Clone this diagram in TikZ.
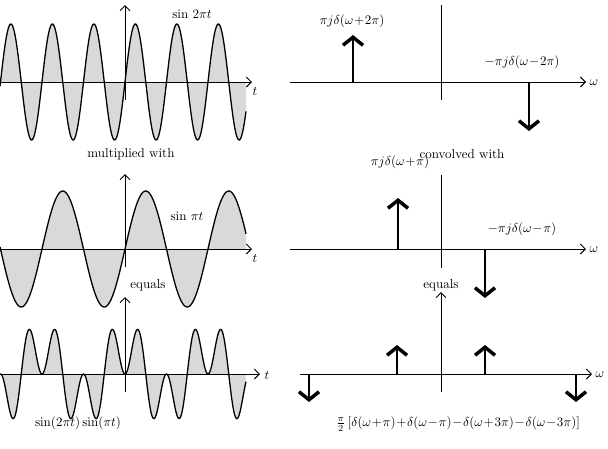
\documentclass[tikz,border=0pt]{standalone}
\usetikzlibrary{arrows.meta}
\begin{document}
\begin{tikzpicture}[x=1pt,y=-1pt,
  ax/.style={line width=1pt,-{Straight Barb[length=5pt,width=10pt]}},
  imp/.style={line width=1.5pt,-{Straight Barb[length=8pt,width=20pt,line width=3.5pt]}},
  lab/.style={scale=1.3,inner sep=0pt}]
\useasboundingbox (0,0) rectangle (608,448);
% left top
\fill[gray!30,domain=0:246,samples=300] (0,82) -- plot (\x,{82-58*sin((\x-125)/41.5*360)}) -- (246,82) -- cycle;
\draw[line width=1.3pt,domain=0:246,samples=300] plot (\x,{82-58*sin((\x-125)/41.5*360)});
\coordinate (a1l) at (0,82); \coordinate (a1r) at (252,82);
\coordinate (v1b) at (125,100); \coordinate (v1t) at (125,5);
\draw[ax] (a1l) -- (a1r); \draw[ax] (v1b) -- (v1t);
\node[lab] (l1) at (192,14) {sin $2\pi t$};
\node[lab] (t1) at (255,91) {$t$};
\node[lab] (mw) at (131,154) {multiplied with};
% left middle
\fill[gray!30,domain=0:246,samples=200] (0,249) -- plot (\x,{249-58*sin((\x-125)/83*360)}) -- (246,249) -- cycle;
\draw[line width=1.3pt,domain=0:246,samples=200] plot (\x,{249-58*sin((\x-125)/83*360)});
\coordinate (a2l) at (0,249); \coordinate (a2r) at (252,249);
\coordinate (v2b) at (125,267); \coordinate (v2t) at (125,174);
\draw[ax] (a2l) -- (a2r); \draw[ax] (v2b) -- (v2t);
\node[lab] (l2) at (187,216) {sin $\pi t$};
\node[lab] (t2) at (255,258) {$t$};
\node[lab] (eq1) at (148,285) {equals};
% left bottom
\fill[gray!30,domain=0:246,samples=400] (0,374) -- plot (\x,{374-58*sin((\x-125)/41.5*360)*sin((\x-125)/41.5*180)}) -- (246,374) -- cycle;
\draw[line width=1.3pt,domain=0:246,samples=400] plot (\x,{374-58*sin((\x-125)/41.5*360)*sin((\x-125)/41.5*180)});
\coordinate (a3l) at (0,374); \coordinate (a3r) at (260,374);
\coordinate (v3b) at (125,392); \coordinate (v3t) at (125,297);
\draw[ax] (a3l) -- (a3r); \draw[ax] (v3b) -- (v3t);
\node[lab] (t3) at (267,375) {$t$};
\node[lab] (l3) at (78,423) {$\sin(2\pi t)\sin(\pi t)$};
% right top
\coordinate (b1l) at (290,82); \coordinate (b1r) at (586,82);
\coordinate (w1b) at (441,100); \coordinate (w1t) at (441,5);
\draw[ax] (b1l) -- (b1r);
\draw[line width=1pt] (w1b) -- (w1t);
\coordinate (p1) at (353,82); \coordinate (p1t) at (353,35);
\coordinate (p2) at (529,82); \coordinate (p2t) at (529,131);
\draw[imp] (p1) -- (p1t); \draw[imp] (p2) -- (p2t);
\node[lab] (o1) at (594,83) {$\omega$};
\node[lab] (d1) at (352,21) {$\pi j\delta(\omega\!+\!2\pi)$};
\node[lab] (d2) at (522,62) {$-\pi j\delta(\omega\!-\!2\pi)$};
\node[lab] (cw) at (462,154) {convolved with};
% right middle
\coordinate (b2l) at (290,249); \coordinate (b2r) at (586,249);
\coordinate (w2b) at (441,268); \coordinate (w2t) at (441,175);
\draw[ax] (b2l) -- (b2r); \draw[line width=1pt] (w2b) -- (w2t);
\coordinate (q1) at (398,249); \coordinate (q1t) at (398,198);
\coordinate (q2) at (485,249); \coordinate (q2t) at (485,298);
\draw[imp] (q1) -- (q1t); \draw[imp] (q2) -- (q2t);
\node[lab] (o2) at (594,250) {$\omega$};
\node[lab] (d3) at (400,162) {$\pi j\delta(\omega\!+\!\pi)$};
\node[lab] (d4) at (522,229) {$-\pi j\delta(\omega\!-\!\pi)$};
\node[lab] (eq2) at (441,285) {equals};
% right bottom
\coordinate (b3l) at (300,374); \coordinate (b3r) at (592,374);
\coordinate (w3b) at (441,392); \coordinate (w3t) at (441,292);
\draw[ax] (b3l) -- (b3r); \draw[ax] (w3b) -- (w3t);
\coordinate (r1) at (397,374); \coordinate (r1t) at (397,345);
\coordinate (r2) at (485,374); \coordinate (r2t) at (485,345);
\coordinate (r3) at (309,374); \coordinate (r3t) at (309,402);
\coordinate (r4) at (576,374); \coordinate (r4t) at (576,402);
\draw[imp] (r1) -- (r1t); \draw[imp] (r2) -- (r2t);
\draw[imp] (r3) -- (r3t); \draw[imp] (r4) -- (r4t);
\node[lab] (o3) at (600,375) {$\omega$};
\node[lab] (f) at (458,424) {$\frac{\pi}{2}\left[\delta(\omega\!+\!\pi)\!+\!\delta(\omega\!-\!\pi)\!-\!\delta(\omega\!+\!3\pi)\!-\!\delta(\omega\!-\!3\pi)\right]$};
\end{tikzpicture}
\end{document}
